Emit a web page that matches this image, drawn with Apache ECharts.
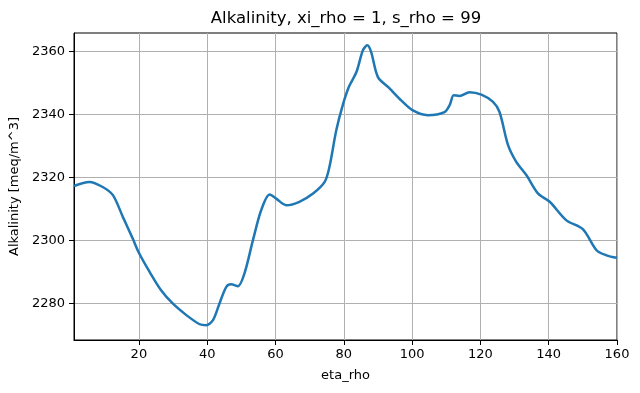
<!DOCTYPE html>
<html>
<head>
<meta charset="utf-8">
<script src="https://cdn.jsdelivr.net/npm/echarts@6/dist/echarts.min.js"></script>
<style>
  html, body { margin: 0; padding: 0; background: #fff; }
  #chart { width: 640px; height: 393px; }
</style>
</head>
<body>
<div id="chart"></div>
<script>
// eta_rho positions
var etaRho = [1, 5.5, 9.4, 12.4, 15.3, 18.2, 20, 23.1, 26.5, 29.9, 33.9, 37.8, 39.7, 41.7, 43.6,
    45.6, 47, 49, 50.9, 53.4, 55.8, 58.3, 60.2, 63.2, 67, 71, 74.4, 75.8, 77.8, 79.7, 81.5,
    83.7, 85.6, 86.9, 88, 90, 93.4, 96.8, 100.1, 104.6, 109.5, 111, 112.2, 113.9, 116.8,
    120.3, 123.7, 125.6, 128.1, 130.5, 133.5, 136.9, 140.3, 145.2, 150, 154, 156.9, 160];
// alkalinity [meq/m^3]
var alkalinity = [2317.2, 2318.5, 2316.9, 2314.3, 2307.4, 2300.5, 2296, 2290, 2284.1, 2279.9, 2276.2, 2273.3, 2273, 2274.6, 2279.9,
    2285.2, 2286, 2285.4, 2289.4, 2300, 2309.5, 2314.5, 2313.2, 2311.1, 2312.2, 2314.8, 2318.5, 2323.3, 2334.9, 2342.9, 2348.7,
    2353.4, 2360.3, 2361.9, 2359.8, 2351.8, 2348.2, 2344.4, 2341.3, 2339.7, 2340.7, 2342.9, 2346, 2345.8, 2347,
    2346.2, 2343.9, 2340.7, 2330.2, 2324.9, 2320.6, 2314.8, 2312.2, 2306.3, 2303.5, 2296.8, 2295.2, 2294.4];
var xTicks = [20, 40, 60, 80, 100, 120, 140, 160];
var yTicks = [2280, 2300, 2320, 2340, 2360];

var chart = echarts.init(document.getElementById('chart'));
var pts = [];
for (var i = 0; i < etaRho.length; i++) {
    pts.push([etaRho[i], alkalinity[i]]);
}
var font = 'DejaVu Sans';
var plain = function (v) { return String(v); };
var option = {
    animation: false,
    backgroundColor: '#fff',
    textStyle: { fontFamily: font },
    graphic: [{
        type: 'text',
        x: 346,
        y: 10,
        style: { text: 'Alkalinity, xi_rho = 1, s_rho = 99', font: '16.5px "DejaVu Sans"', fill: '#000', align: 'center' }
    }],
    grid: {
        left: 74, right: 23, top: 33, bottom: 53,
        outerBoundsMode: 'none',
        containLabel: false,
        show: true, borderColor: '#000', borderWidth: 1, backgroundColor: 'transparent'
    },
    xAxis: {
        type: 'value',
        min: 1, max: 160,
        name: 'eta_rho',
        nameLocation: 'middle',
        nameGap: 29,
        nameTextStyle: { color: '#000', fontSize: 13, fontFamily: font },
        axisLine: { show: true, onZero: false, lineStyle: { color: '#000', width: 1 } },
        axisTick: { show: true, length: 5, lineStyle: { color: '#000' }, customValues: xTicks },
        axisLabel: { color: '#000', fontSize: 13, margin: 8, fontFamily: font, customValues: xTicks, formatter: plain },
        splitLine: { show: true, lineStyle: { color: '#b0b0b0', width: 1 } }
    },
    yAxis: {
        type: 'value',
        min: 2268.3, max: 2365.8,
        name: 'Alkalinity [meq/m^3]',
        nameLocation: 'middle',
        nameGap: 52,
        nameTextStyle: { color: '#000', fontSize: 13, fontFamily: font },
        axisLine: { show: true, lineStyle: { color: '#000', width: 1 } },
        axisTick: { show: true, length: 5, lineStyle: { color: '#000' }, customValues: yTicks },
        axisLabel: { color: '#000', fontSize: 13, margin: 9, fontFamily: font, customValues: yTicks, formatter: plain },
        splitLine: { show: true, lineStyle: { color: '#b0b0b0', width: 1 } }
    },
    series: [{
        type: 'line',
        data: pts,
        smooth: 0.3,
        showSymbol: false,
        lineStyle: { color: '#1f77b4', width: 2.5 },
        clip: true
    }]
};
chart.setOption(option);
</script>
</body>
</html>
